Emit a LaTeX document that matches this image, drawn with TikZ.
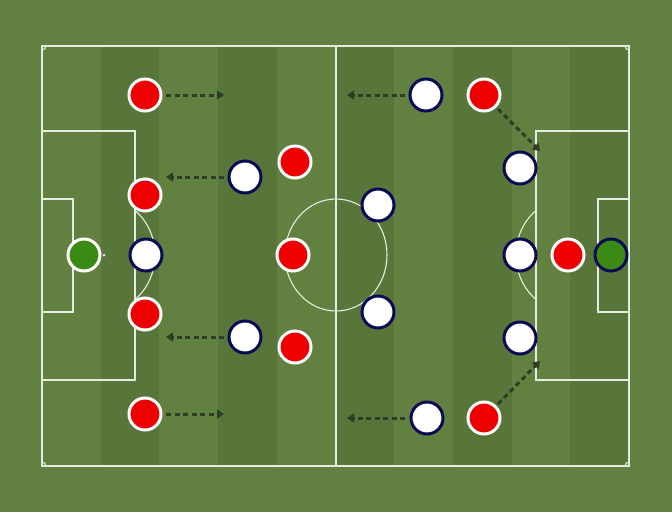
\documentclass[tikz,border=0pt]{standalone}
\usetikzlibrary{arrows.meta}
\definecolor{grassA}{HTML}{628141}
\definecolor{grassB}{HTML}{59763A}
\definecolor{lineC}{HTML}{E6ECDF}
\definecolor{redP}{HTML}{EE0000}
\definecolor{navyP}{HTML}{0B0B55}
\definecolor{keepG}{HTML}{3A8A14}
\definecolor{arrowC}{HTML}{303D26}
\tikzset{
  pl/.style={circle, inner sep=0pt, minimum size=32pt, line width=3pt},
  redpl/.style={pl, fill=redP, draw=white},
  whitepl/.style={pl, fill=white, draw=navyP},
  gkA/.style={pl, fill=keepG, draw=white},
  gkB/.style={pl, fill=keepG, draw=navyP},
  pitch/.style={draw=lineC, line width=1.1pt},
  run/.style={draw=arrowC, line width=3pt, dash pattern=on 5pt off 3.5pt, -{Triangle[length=7pt,width=9pt]}}
}
\begin{document}
\begin{tikzpicture}[x=1pt,y=-1pt]
\useasboundingbox (0,0) rectangle (672,512);
\fill[grassA] (0,0) rectangle (672,512);
% stripes
\foreach \i in {1,3,5,7,9}{
  \fill[grassB] ({42+\i*58.7},46) rectangle ({42+(\i+1)*58.7},466);
}
% pitch lines
\draw[pitch] (42,46) rectangle (629,466);
\draw[pitch] (336,46) -- (336,466);
\draw[pitch] (336,255) ellipse [x radius=51, y radius=56];
\fill[lineC] (336,255) circle (1.3);
\draw[pitch] (42,131) rectangle (135,380);
\draw[pitch] (42,199) rectangle (73,312);
\draw[pitch] (629,131) rectangle (536,380);
\draw[pitch] (629,199) rectangle (598,312);
\fill[lineC] (104,255) circle (1.5);
\fill[lineC] (568,255) circle (1.5);
\draw[pitch] (135,210.5) arc[start angle=-52.6, end angle=52.6, x radius=51, y radius=56];
\draw[pitch] (536,210.5) arc[start angle=232.6, end angle=127.4, x radius=51, y radius=56];
% corner arcs
\draw[pitch] (46,46) arc[start angle=0, end angle=90, radius=4];
\draw[pitch] (625,46) arc[start angle=180, end angle=90, radius=4];
\draw[pitch] (46,466) arc[start angle=0, end angle=-90, radius=4];
\draw[pitch] (625,466) arc[start angle=180, end angle=270, radius=4];
% runs
\coordinate (a1s) at (166,95);  \coordinate (a1e) at (224,95);
\coordinate (a2s) at (224,177); \coordinate (a2e) at (166,177);
\coordinate (a3s) at (224,337); \coordinate (a3e) at (166,337);
\coordinate (a4s) at (166,414); \coordinate (a4e) at (224,414);
\coordinate (a5s) at (405,95);  \coordinate (a5e) at (347,95);
\coordinate (a6s) at (405,418); \coordinate (a6e) at (347,418);
\coordinate (a7s) at (498,109); \coordinate (a7e) at (540,151);
\coordinate (a8s) at (498,404); \coordinate (a8e) at (540,361);
\foreach \k in {1,...,8}{\draw[run] (a\k s) -- (a\k e);}
% red team
\node[gkA] (rgk) at (84,255) {};
\node[redpl] (r1) at (145,95) {};
\node[redpl] (r2) at (145,195) {};
\node[redpl] (r3) at (145,314) {};
\node[redpl] (r4) at (145,414) {};
\node[redpl] (r5) at (295,162) {};
\node[redpl] (r6) at (293,255) {};
\node[redpl] (r7) at (295,347) {};
\node[redpl] (r8) at (484,95) {};
\node[redpl] (r9) at (484,418) {};
\node[redpl] (r10) at (568,255) {};
% white team
\node[gkB] (wgk) at (611,255) {};
\node[whitepl] (w1) at (146,255) {};
\node[whitepl] (w2) at (245,177) {};
\node[whitepl] (w3) at (245,337) {};
\node[whitepl] (w4) at (426,95) {};
\node[whitepl] (w5) at (378,205) {};
\node[whitepl] (w6) at (378,312) {};
\node[whitepl] (w7) at (427,418) {};
\node[whitepl] (w8) at (520,168) {};
\node[whitepl] (w9) at (520,255) {};
\node[whitepl] (w10) at (520,338) {};
\end{tikzpicture}
\end{document}
